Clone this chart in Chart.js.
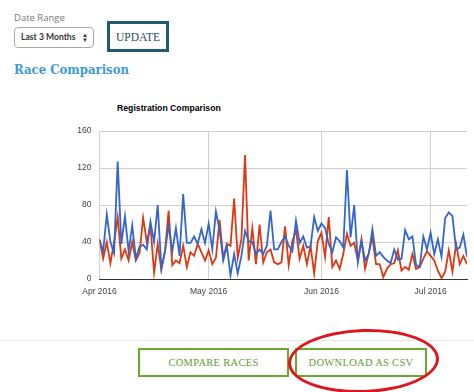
<!DOCTYPE html>
<html>
<head>
<meta charset="utf-8">
<script src="https://cdn.jsdelivr.net/npm/chart.js@4"></script>
<style>
  html, body { margin:0; padding:0; background:#fff; }
  body { width:474px; height:392px; position:relative; overflow:hidden; }
  .abs { position:absolute; }
  #dateLabel { left:14px; top:11px; font:9.5px "Open Sans", sans-serif; color:#777; }
  #select { left:14px; top:27px; width:78px; height:19px; border:1px solid #a9a9a9; border-radius:4px; background:#fff; }
  #select span { position:absolute; left:6px; top:3px; font:bold 8.6px Lato, sans-serif; color:#333; line-height:12px; }
  #select i { position:absolute; right:5px; font-style:normal; font-size:6px; color:#333; line-height:5px; }
  #update { left:107px; top:21px; width:56px; height:25px; border:3px solid #1f5b70; font:11.5px "Liberation Serif", serif; color:#1d4d61; text-align:center; line-height:26px; }
  #raceTitle { left:14px; top:62px; font:bold 13px "DejaVu Serif", serif; font-stretch:condensed; color:#3d9ad9; }
  #chartTitle { left:117px; top:103px; font:bold 8.7px "Liberation Sans", Arial, sans-serif; color:#000; line-height:10px; }
  #sep { left:0; top:340px; width:474px; height:1px; background:#e6e6e6; }
  .gbtn { top:348px; height:25px; border:2px solid #6aab2f; font:10.5px "Liberation Serif", serif; color:#5f9e30; text-align:center; line-height:26px; letter-spacing:0.3px; }
  #compare { left:138px; width:147px; }
  #download { left:295px; width:128px; }
  #ellipse { left:288px; top:329px; width:145px; height:58px; border:3px solid #e1141c; border-radius:50%; transform:rotate(-2deg); }
  #chartBox { left:0; top:118px; width:474px; height:188px; }
</style>
</head>
<body>
<div class="abs" id="dateLabel">Date Range</div>
<div class="abs" id="select"><span>Last 3 Months</span><i style="top:5px">▲</i><i style="top:10px">▼</i></div>
<div class="abs" id="update">UPDATE</div>
<div class="abs" id="raceTitle">Race Comparison</div>
<div class="abs" id="chartTitle">Registration Comparison</div>
<div class="abs" id="chartBox"><canvas id="c" width="474" height="188"></canvas></div>
<div class="abs" id="sep"></div>
<div class="abs gbtn" id="compare">COMPARE RACES</div>
<div class="abs gbtn" id="download">DOWNLOAD AS CSV</div>
<div class="abs" id="ellipse"></div>
<script>
// Daily values, 1 Apr 2016 .. 11 Jul 2016
const seriesBlue = [42,30,70,40,28,127,38,68,30,58,22,35,37,32,62,40,80,12,30,58,
  30,55,25,92,39,39,46,38,54,39,60,32,73,53,20,36,4,27,6,25,
  52,41,40,27,32,27,36,74,32,32,40,46,36,30,63,39,46,34,35,67,
  52,60,55,38,29,45,41,34,118,45,80,18,41,20,27,54,25,29,24,20,
  17,32,21,22,53,43,46,15,13,46,32,50,27,43,24,66,72,68,32,34,
  48,24];
const seriesRed = [43,22,40,17,40,67,22,32,20,40,20,28,66,40,58,7,38,10,30,74,
  15,20,17,36,13,29,25,38,29,20,31,16,23,64,23,38,36,87,23,43,
  134,20,55,16,59,18,29,32,18,16,18,57,15,41,53,22,36,16,36,6,
  41,50,24,67,13,20,11,27,49,36,39,20,43,11,28,45,16,16,2,11,
  16,17,31,9,13,10,27,11,13,22,30,25,20,9,1,8,31,8,38,16,
  25,16];
const tickDays = [0, 30, 61, 91];
const tickLabels = ['Apr 2016', 'May 2016', 'Jun 2016', 'Jul 2016'];
const yTicks = [0, 40, 80, 120, 160];

const toPts = arr => arr.map((v, i) => ({x: i, y: v}));
const font = {family: '"Liberation Sans", Arial, sans-serif', size: 8.5};

new Chart(document.getElementById('c'), {
  type: 'line',
  data: {
    datasets: [
      {label: 'Race A', data: toPts(seriesBlue), borderColor: '#3366cc', borderWidth: 1.8, pointRadius: 0, tension: 0, fill: false},
      {label: 'Race B', data: toPts(seriesRed), borderColor: '#dc3912', borderWidth: 1.8, pointRadius: 0, tension: 0, fill: false}
    ]
  },
  options: {
    responsive: false,
    devicePixelRatio: 1,
    animation: false,
    layout: {padding: {top: 7, right: 7, left: 0, bottom: 0}},
    plugins: {legend: {display: false}, tooltip: {enabled: false}, title: {display: false}},
    scales: {
      x: {
        type: 'linear', min: 0, max: seriesBlue.length - 1,
        afterBuildTicks: s => { s.ticks = tickDays.map(v => ({value: v})); },
        afterFit: s => { s.height = 27; },
        ticks: {autoSkip: false, maxRotation: 0, color: '#444', font: font, padding: 8,
          callback: v => tickLabels[tickDays.indexOf(v)]},
        grid: {color: '#d0d0d0', drawTicks: false, lineWidth: 1},
        border: {display: true, color: '#333', width: 1}
      },
      y: {
        min: 0, max: 160,
        afterBuildTicks: s => { s.ticks = yTicks.map(v => ({value: v})); },
        afterFit: s => { s.width = 99.5; },
        ticks: {color: '#444', font: font, padding: 8},
        grid: {color: c => (c.tick && c.tick.value === 0) ? '#333' : '#d0d0d0', drawTicks: false},
        border: {display: false}
      }
    }
  }
});
</script>
</body>
</html>
